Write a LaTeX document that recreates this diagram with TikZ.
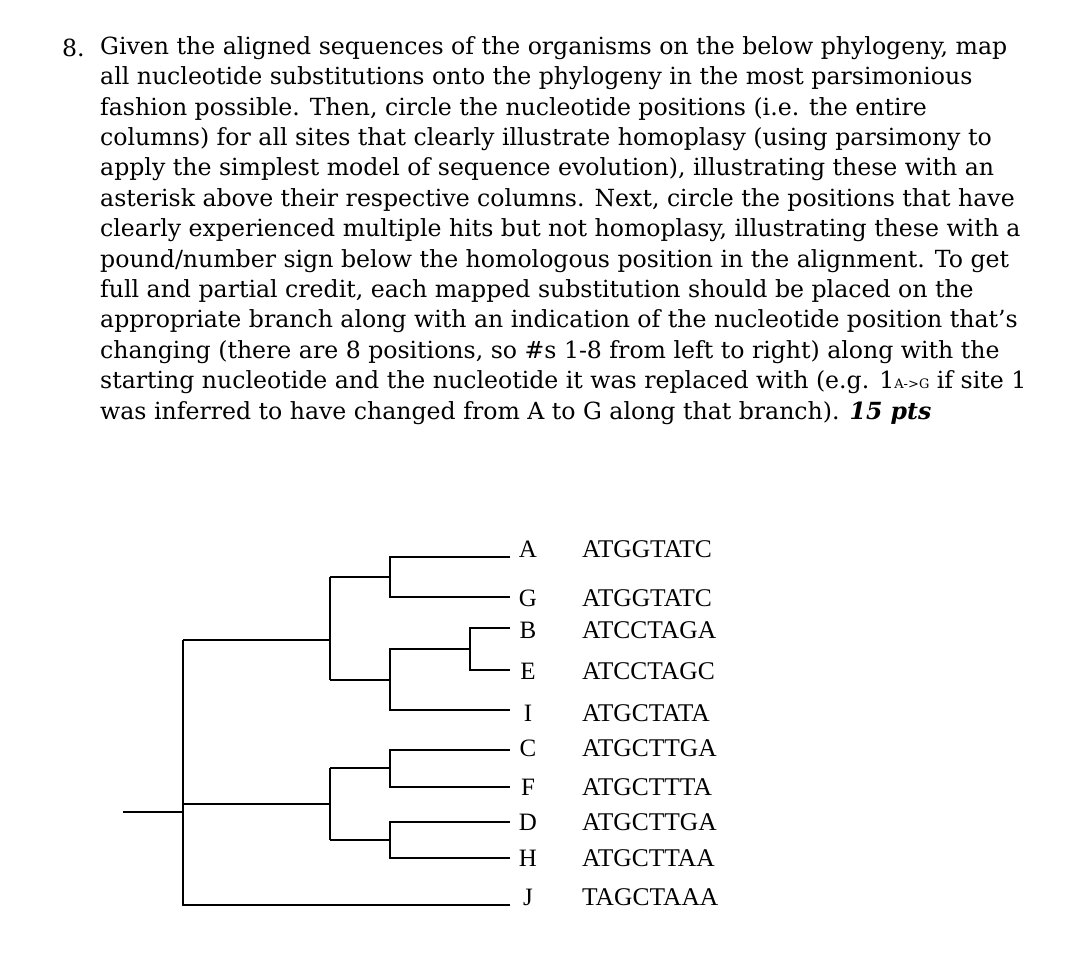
\documentclass[tikz,border=0pt]{standalone}
\usepackage{fontspec}
\setmainfont{DejaVu Serif}
\newfontfamily\seqfont{Liberation Serif}
\begin{document}
\begin{tikzpicture}[x=1pt,y=-1pt]
\useasboundingbox[fill=white] (0,0) rectangle (1076,956);
\tikzset{txt/.style={anchor=west,inner sep=0pt,font=\fontsize{23.6}{26}\selectfont},
 lab/.style={inner sep=0pt,font=\seqfont\fontsize{25}{28}\selectfont},
 sq/.style={anchor=west,inner sep=0pt,font=\seqfont\fontsize{25.5}{28}\selectfont},
 br/.style={line width=2.5pt}}
\node[txt] (n0) at (62,48) {8.};
\foreach \i/\t in {0/{Given the aligned sequences of the organisms on the below phylogeny, map},
1/{all nucleotide substitutions onto the phylogeny in the most parsimonious},
2/{fashion possible. Then, circle the nucleotide positions (i.e. the entire},
3/{columns) for all sites that clearly illustrate homoplasy (using parsimony to},
4/{apply the simplest model of sequence evolution), illustrating these with an},
5/{asterisk above their respective columns. Next, circle the positions that have},
6/{clearly experienced multiple hits but not homoplasy, illustrating these with a},
7/{pound/number sign below the homologous position in the alignment. To get},
8/{full and partial credit, each mapped substitution should be placed on the},
9/{appropriate branch along with an indication of the nucleotide position that's},
10/{changing (there are 8 positions, so \#s 1-8 from left to right) along with the},
11/{starting nucleotide and the nucleotide it was replaced with (e.g. 1{\fontsize{13}{13}\selectfont A->G} if site 1},
12/{was inferred to have changed from A to G along that branch). \textbf{\textit{15 pts}}}}
 \node[txt] (l\i) at (100,48+30.4*\i) {\t};
% leaves
\foreach \n/\y/\s in {A/549/ATGGTATC,G/598/ATGGTATC,B/630/ATCCTAGA,E/671/ATCCTAGC,I/713/ATGCTATA,C/748/ATGCTTGA,F/787/ATGCTTTA,D/822/ATGCTTGA,H/858/ATGCTTAA,J/897/TAGCTAAA}{
 \node[lab] (L\n) at (528,\y) {\n};
 \node[sq] (S\n) at (582,\y) {\s};}
% tree
\draw[br] (510,557) -- (390,557) -- (390,597) -- (510,597);
\draw[br] (390,577) -- (330,577);
\draw[br] (510,628) -- (470,628) -- (470,670) -- (510,670);
\draw[br] (470,649) -- (390,649) -- (390,710) -- (510,710);
\draw[br] (390,680) -- (330,680);
\draw[br] (330,577) -- (330,680);
\draw[br] (330,640) -- (183,640);
\draw[br] (510,750) -- (390,750) -- (390,787) -- (510,787);
\draw[br] (390,768) -- (330,768);
\draw[br] (510,822) -- (390,822) -- (390,858) -- (510,858);
\draw[br] (390,840) -- (330,840);
\draw[br] (330,768) -- (330,840);
\draw[br] (330,804) -- (183,804);
\draw[br] (183,640) -- (183,905) -- (510,905);
\draw[br] (123,812) -- (183,812);
\end{tikzpicture}
\end{document}
